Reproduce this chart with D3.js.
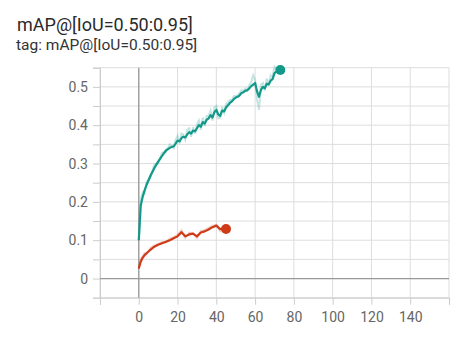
<!DOCTYPE html>
<html>
<head>
<meta charset="utf-8">
<script src="https://cdn.jsdelivr.net/npm/d3@7"></script>
<style>
  body { margin: 0; background: #fff; }
  text { font-family: Roboto, "Noto Sans", sans-serif; }
</style>
</head>
<body>
<div id="chart"></div>
<script>
const W = 474, H = 337

// teal run
const tealSteps = [0,1,2,3,4,6,8,10,12,14,16,
  18,19,20,21,22,23,24,25,26,27,28,29,30,31,32,33,34,35,36,37,38,39,40,41,42,43,44,45,46,47,
  48,49,50,51,52,53,54,55,56,57,58,59,60,61,62,63,64,65,66,67,68,69,70,71,72,73]
const tealSmooth = [0.100,0.190,0.213,0.230,0.244,0.268,0.288,0.305,0.320,0.334,0.341,
  0.345,0.352,0.360,0.358,0.366,0.370,0.368,0.376,0.382,0.378,
  0.386,0.384,0.392,0.400,0.396,0.408,0.404,0.414,0.418,0.426,
  0.420,0.434,0.440,0.428,0.424,0.438,0.436,0.446,0.452,0.458,
  0.462,0.468,0.472,0.474,0.478,0.484,0.486,0.490,0.491,0.496,
  0.502,0.506,0.510,0.488,0.474,0.492,0.500,0.496,0.508,0.506,
  0.516,0.520,0.536,0.540,0.542,0.544]
const tealRaw = [0.100,0.205,0.225,0.222,0.252,0.262,0.298,0.300,0.328,0.330,0.350,
  0.340,0.362,0.372,0.352,0.378,0.376,0.362,0.388,0.392,0.370,
  0.395,0.378,0.402,0.412,0.388,0.420,0.398,0.424,0.424,0.438,
  0.412,0.446,0.450,0.418,0.420,0.448,0.432,0.456,0.460,0.466,
  0.466,0.476,0.476,0.478,0.484,0.492,0.488,0.496,0.492,0.504,
  0.512,0.530,0.518,0.466,0.440,0.506,0.510,0.490,0.522,0.504,
  0.530,0.526,0.552,0.546,0.544,0.546]

// red run
const redSteps = [0,1,2,3,4,6,8,10,12,14,16,18,20,22,24,26,28,30,32,34,36,38,40,42,44,45]
const redSmooth = [0.026,0.044,0.054,0.061,0.066,0.075,0.083,0.088,0.092,0.096,0.100,0.105,0.110,0.121,0.110,0.115,0.117,0.110,0.120,0.123,0.128,0.134,0.138,0.129,0.130,0.129]
const redRaw = [0.026,0.052,0.058,0.066,0.064,0.080,0.086,0.090,0.095,0.094,0.104,0.108,0.114,0.126,0.106,0.120,0.118,0.106,0.124,0.126,0.132,0.138,0.140,0.124,0.134,0.128]

const xTicks = [-20,0,20,40,60,80,100,120,140,160]
const xLabels = [0,20,40,60,80,100,120,140]
const yTicks = [-0.05,0,0.05,0.1,0.15,0.2,0.25,0.3,0.35,0.4,0.45,0.5,0.55]
const yLabels = [0,0.1,0.2,0.3,0.4,0.5]

const series = [
  { steps: tealSteps, smooth: tealSmooth, raw: tealRaw, color: '#12998a' },
  { steps: redSteps, smooth: redSmooth, raw: redRaw, color: '#cf3a17' }
]

const x = d3.scaleLinear().domain([-20, 160]).range([100, 449])
const y = d3.scaleLinear().domain([-0.05, 0.55]).range([297.7, 67.7])

const svg = d3.select('#chart').append('svg')
  .attr('width', W).attr('height', H)

svg.append('text').attr('x', 17).attr('y', 31)
  .attr('font-size', 18).attr('fill', '#2a2a2a')
  .text('mAP@[IoU=0.50:0.95]')
svg.append('text').attr('x', 16).attr('y', 50)
  .attr('font-size', 15.5).attr('fill', '#333')
  .text('tag: mAP@[IoU=0.50:0.95]')

// grid
svg.append('g').selectAll('line').data(xTicks).join('line')
  .attr('x1', d => x(d)).attr('x2', d => x(d))
  .attr('y1', y(0.55)).attr('y2', y(-0.05))
  .attr('stroke', '#ddd')
svg.append('g').selectAll('line').data(yTicks).join('line')
  .attr('x1', x(-20)).attr('x2', x(160))
  .attr('y1', d => y(d)).attr('y2', d => y(d))
  .attr('stroke', '#ddd')

// axes
const yAxis = svg.append('g')
  .attr('transform', `translate(${x(-20)},0)`)
  .call(d3.axisLeft(y).tickValues(yTicks).tickSize(7).tickPadding(5)
    .tickFormat(d => yLabels.some(v => Math.abs(v - d) < 1e-9) ? d3.format('')(+d.toFixed(2)) : ''))
const xAxis = svg.append('g')
  .attr('transform', `translate(0,${y(-0.05)})`)
  .call(d3.axisBottom(x).tickValues(xTicks).tickSize(7).tickPadding(7)
    .tickFormat(d => xLabels.includes(d) ? d : ''))
;[yAxis, xAxis].forEach(a => {
  a.select('.domain').attr('stroke', '#ccc')
  a.selectAll('.tick line').attr('stroke', '#ccc')
  a.selectAll('.tick text').attr('fill', '#666').attr('font-size', 14)
    .attr('font-family', 'Roboto, "Noto Sans", sans-serif')
})

// zero lines
svg.append('line')
  .attr('x1', x(-20)).attr('x2', x(160)).attr('y1', y(0)).attr('y2', y(0))
  .attr('stroke', '#999').attr('stroke-width', 1.3)
svg.append('line')
  .attr('x1', x(0)).attr('x2', x(0)).attr('y1', y(0.55)).attr('y2', y(-0.05))
  .attr('stroke', '#999').attr('stroke-width', 1.3)

const line = d3.line().x(d => x(d[0])).y(d => y(d[1]))

series.forEach(s => {
  const raw = s.steps.map((st, i) => [st, s.raw[i]])
  const sm = s.steps.map((st, i) => [st, s.smooth[i]])
  svg.append('path').datum(raw).attr('d', line)
    .attr('fill', 'none').attr('stroke', s.color).attr('stroke-opacity', 0.25)
    .attr('stroke-width', 2)
  svg.append('path').datum(sm).attr('d', line)
    .attr('fill', 'none').attr('stroke', s.color).attr('stroke-width', 2.2)
    .attr('stroke-linejoin', 'round')
  const last = sm[sm.length - 1]
  svg.append('circle').attr('cx', x(last[0])).attr('cy', y(last[1]))
    .attr('r', 5).attr('fill', s.color)
})
</script>
</body>
</html>
